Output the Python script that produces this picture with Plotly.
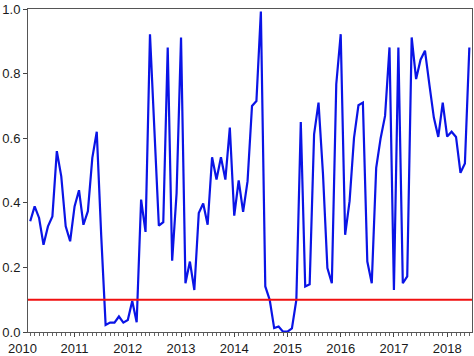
import plotly.graph_objects as go

# Monthly observations, 2010M03 .. 2018M06 (index 0..99)
values = [
    0.343, 0.389, 0.353, 0.270, 0.327, 0.358, 0.560, 0.482, 0.327, 0.281,
    0.389, 0.439, 0.332, 0.374, 0.539, 0.620, 0.300, 0.022, 0.029, 0.029,
    0.048, 0.029, 0.037, 0.096, 0.030, 0.410, 0.310, 0.922, 0.625, 0.329,
    0.340, 0.881, 0.221, 0.430, 0.912, 0.151, 0.218, 0.130, 0.368, 0.398,
    0.332, 0.541, 0.472, 0.541, 0.472, 0.633, 0.360, 0.469, 0.372, 0.467,
    0.700, 0.715, 0.992, 0.141, 0.099, 0.012, 0.017, 0.001, 0.001, 0.011,
    0.099, 0.650, 0.141, 0.148, 0.612, 0.710, 0.490, 0.198, 0.151, 0.767,
    0.922, 0.301, 0.405, 0.601, 0.702, 0.710, 0.218, 0.151, 0.508, 0.600,
    0.669, 0.881, 0.130, 0.881, 0.151, 0.172, 0.912, 0.783, 0.843, 0.871,
    0.765, 0.664, 0.604, 0.710, 0.605, 0.620, 0.604, 0.493, 0.522, 0.881,
]
months = list(range(len(values)))
threshold = 0.1
year_ticks = [10, 22, 34, 46, 58, 70, 82, 94]
year_labels = ["2011", "2012", "2013", "2014", "2015", "2016", "2017", "2018"]
first_year_label = "2010"
y_ticks = [0.0, 0.2, 0.4, 0.6, 0.8, 1.0]
y_labels = ["0.0", "0.2", "0.4", "0.6", "0.8", "1.0"]

xr = [-0.5, 99.6]

fig = go.Figure()
fig.add_trace(go.Scatter(x=months, y=values, mode="lines",
                         line=dict(color="#0a14e6", width=2.2), showlegend=False))
fig.add_trace(go.Scatter(x=xr, y=[threshold, threshold], mode="lines",
                         line=dict(color="#f01010", width=2), showlegend=False))

font = dict(family="Liberation Sans, Arial, sans-serif", size=13, color="#1a1a1a")

fig.update_layout(
    width=474, height=356,
    margin=dict(l=28, r=2, t=9, b=24),
    paper_bgcolor="white", plot_bgcolor="white",
    font=font,
    xaxis=dict(range=xr, showgrid=False, zeroline=False, automargin=False,
               tickmode="array", tickvals=year_ticks, ticktext=year_labels,
               ticks="outside", ticklen=4, tickcolor="#444", tickwidth=1,
               minor=dict(tickmode="linear", tick0=0, dtick=1, ticks="outside",
                          ticklen=3, tickcolor="#666", tickwidth=1, showgrid=False),
               showline=True, linecolor="#555", linewidth=1, mirror=True,
               tickfont=font),
    yaxis=dict(range=[0, 1.0], showgrid=False, zeroline=False, automargin=False,
               tickmode="array", tickvals=y_ticks, ticktext=y_labels,
               ticks="outside", ticklen=4, tickcolor="#444",
               showline=True, linecolor="#555", linewidth=1, mirror=True,
               tickfont=font),
)

fig.add_annotation(x=-0.012, xref="paper", y=0, yref="paper", yshift=-16,
                   text=first_year_label, showarrow=False, font=font,
                   xanchor="center", yanchor="middle")

fig.write_html(
    "out.html",
    config={"displayModeBar": False},
    post_script="document.body.style.margin='0';document.body.style.padding='0';",
)
